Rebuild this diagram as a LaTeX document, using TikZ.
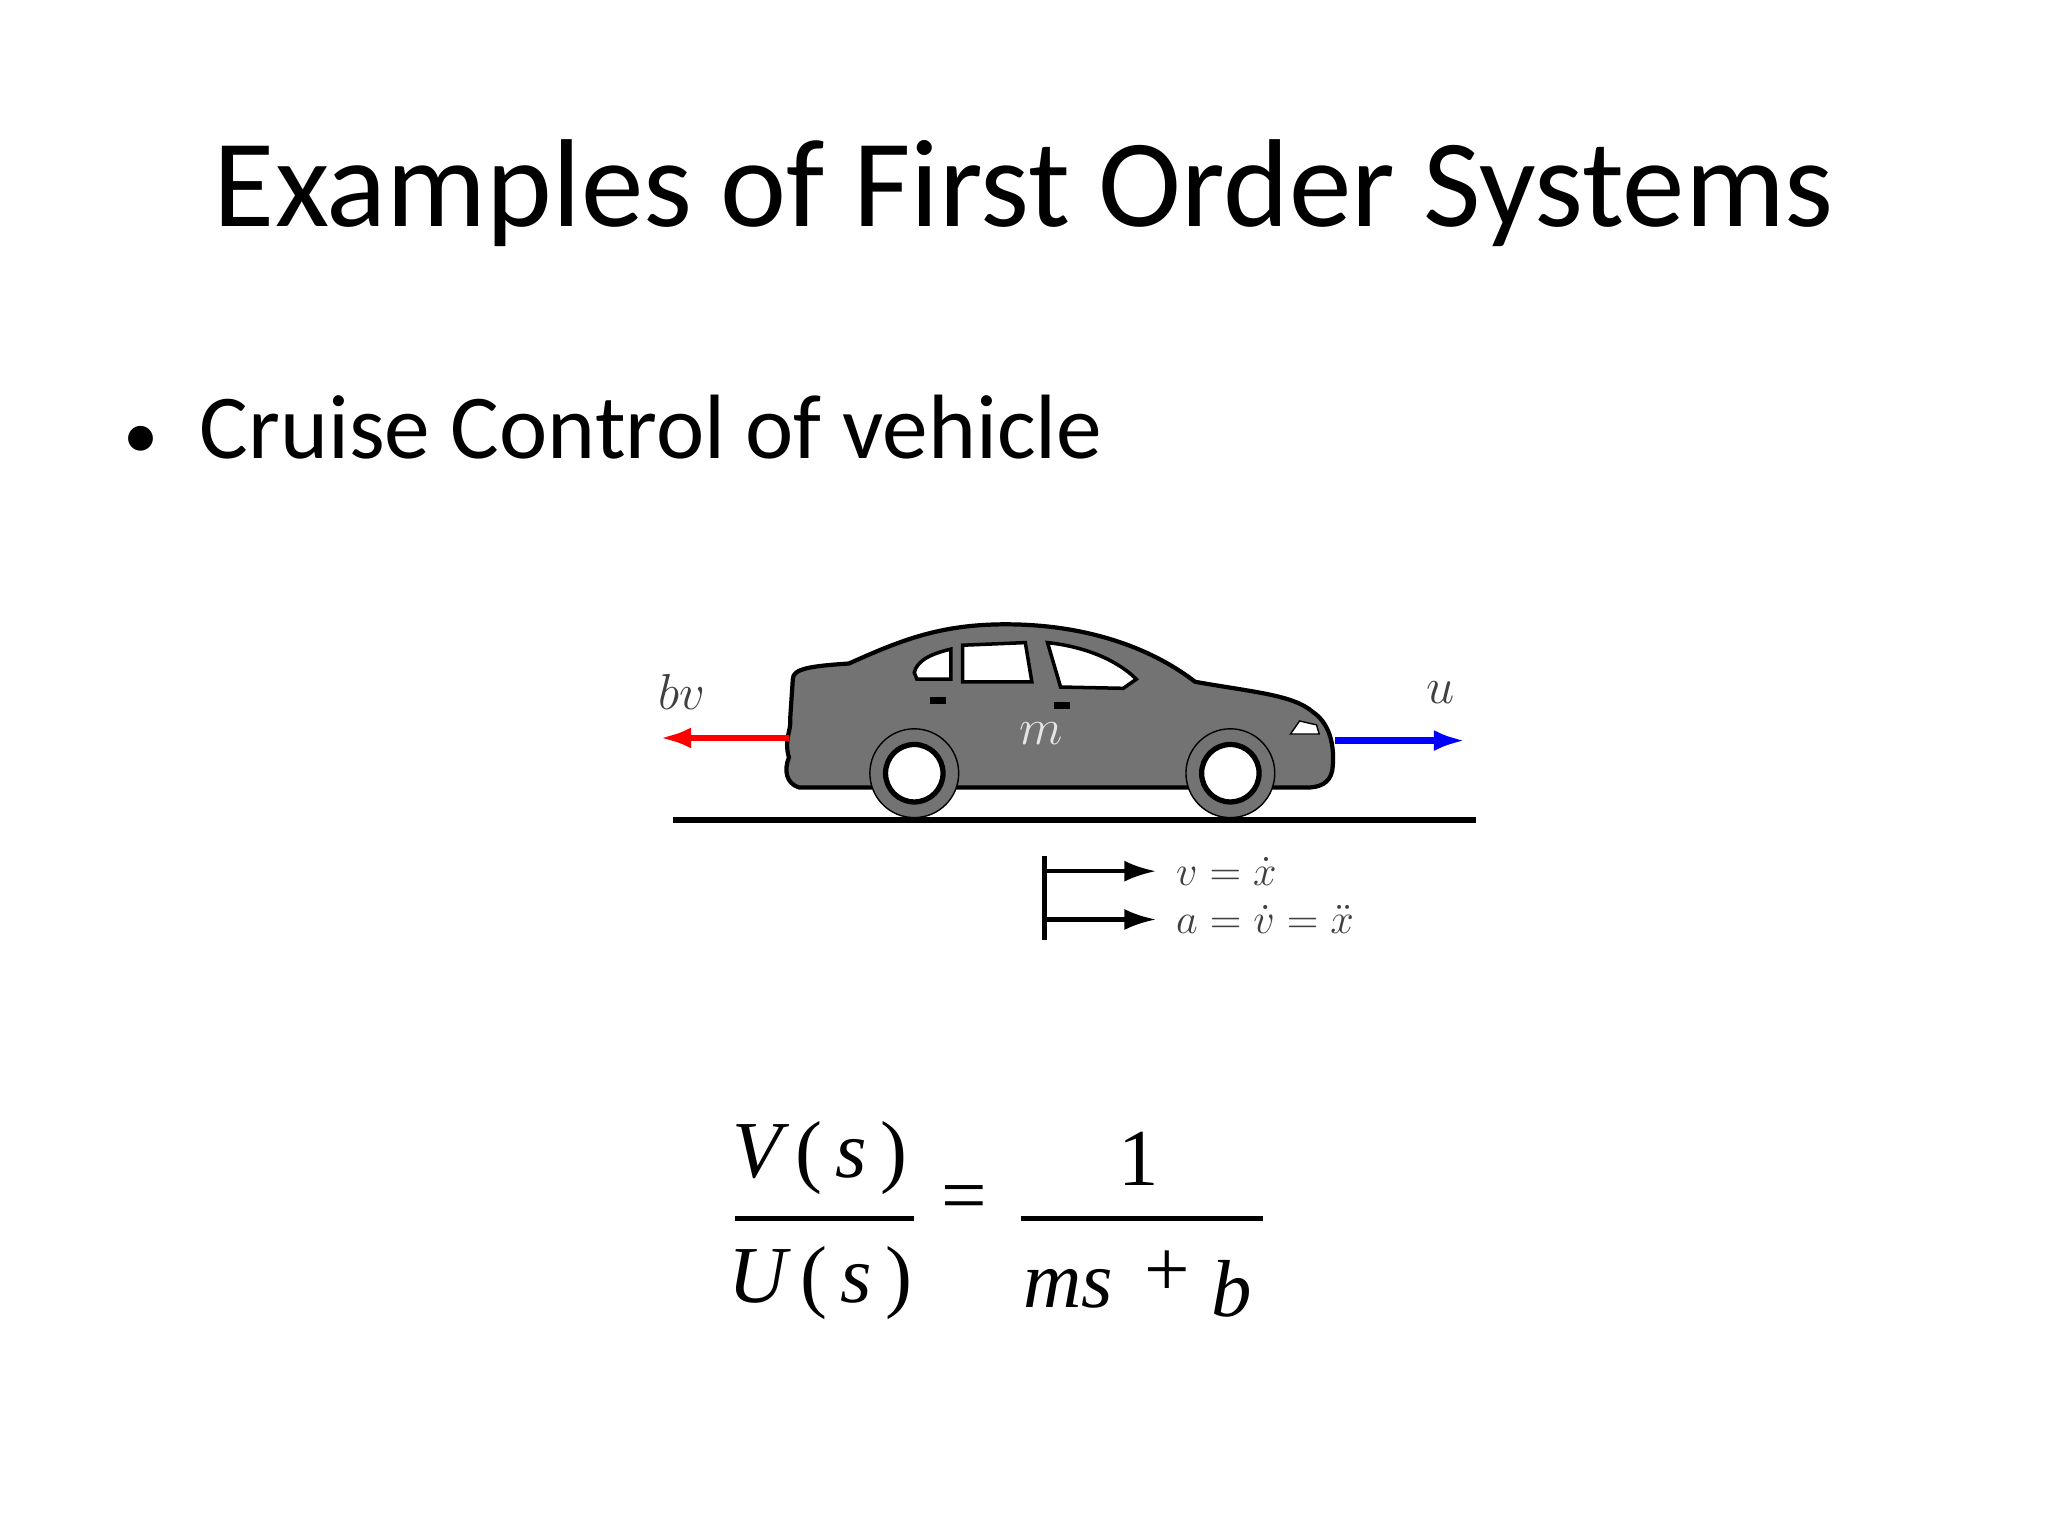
\documentclass[tikz,border=0pt]{standalone}
\usepackage{fontspec}
\setmainfont{Carlito}
\newfontfamily\tms{Liberation Serif}
\usetikzlibrary{arrows.meta}
\begin{document}
\begin{tikzpicture}[x=0.01306cm,y=-0.01306cm,
  lbl/.style={inner sep=0pt,text=black!75},
  eq/.style={inner sep=0pt,font=\tms\fontsize{23}{28}\selectfont\itshape},
  arr/.style={line width=1.8pt,-{Latex[length=9pt,width=6pt]}}]
\useasboundingbox (0,0) rectangle (1568,1176);
\fill[white] (0,0) rectangle (1568,1176);
\node[inner sep=0pt,font=\fontsize{35.6}{40}\selectfont] (title) at (784,148) {Examples of First Order Systems};
\node[inner sep=0pt,anchor=west,font=\fontsize{26}{30}\selectfont] (bul) at (94,327) {{\fontsize{20}{24}\selectfont•}\hspace{0.45em}Cruise Control of vehicle};
% car body
\fill[black!55,draw=black,line width=1.2pt] (607,520) .. controls (607,512) and (620,510) .. (650,508)
  .. controls (690,490) and (720,478) .. (770,478)
  .. controls (830,478) and (880,495) .. (915,522)
  .. controls (960,530) and (990,532) .. (1005,545)
  .. controls (1020,555) and (1022,575) .. (1020,590)
  .. controls (1018,600) and (1010,603) .. (1000,603)
  -- (612,603) .. controls (602,600) and (600,590) .. (604,580)
  .. controls (600,565) and (606,560) .. (605,550) -- cycle;
% windows
\fill[white,draw=black,line width=1pt] (700,515) .. controls (702,505) and (715,500) .. (728,497) -- (728,520) -- (702,520) -- cycle;
\fill[white,draw=black,line width=1pt] (737,494) -- (785,492) -- (790,522) -- (737,522) -- cycle;
\fill[white,draw=black,line width=1pt] (802,492) .. controls (830,495) and (855,505) .. (870,520) -- (860,527) -- (812,526) -- cycle;
\draw[line width=2pt] (712,536) -- (724,536) (807,540) -- (819,540);
\fill[white,draw=black] (988,562) -- (995,552) -- (1008,555) -- (1010,562) -- cycle;
% wheels
\foreach \n/\x in {w1/700,w2/942}{
  \fill[black!55,draw=black] (\x,592) circle (34);
  \fill[white,draw=black,line width=1.5pt] (\x,592) circle (22);
}
\draw[line width=1.6pt] (515,628) -- (1130,628);
% forces
\coordinate (r0) at (604,565); \coordinate (r1) at (505,565);
\coordinate (b0) at (1022,567); \coordinate (b1) at (1122,567);
\draw[arr,red] (r0) -- (r1);
\draw[arr,blue] (b0) -- (b1);
\node[lbl,font=\Large] (bv) at (522,530) {$bv$};
\node[lbl,font=\Large] (u) at (1103,530) {$u$};
\node[lbl,font=\Large,text=white!90!black] (m) at (797,562) {$m$};
% kinematics
\draw[line width=1.4pt] (800,655) -- (800,720);
\coordinate (k1) at (800,667); \coordinate (k2) at (800,704);
\coordinate (e1) at (885,667); \coordinate (e2) at (885,704);
\draw[arr,line width=1.2pt] (k1) -- (e1);
\draw[arr,line width=1.2pt] (k2) -- (e2);
\node[lbl,anchor=west,font=\large] (v) at (900,667) {$v=\dot x$};
\node[lbl,anchor=west,font=\large] (a) at (900,704) {$a=\dot v=\ddot x$};
% equation
\node[eq] (V) at (628,887) {V\,{\upshape(}\,s\,{\upshape)}};
\node[eq] (U) at (628,982) {U\,{\upshape(}\,s\,{\upshape)}};
\draw[line width=1.5pt] (563,933) -- (700,933);
\node[eq,font=\tms\fontsize{23}{28}\selectfont] (eqs) at (738,922) {=};
\node[eq,font=\tms\fontsize{23}{28}\selectfont] (one) at (872,887) {1};
\draw[line width=1.5pt] (782,933) -- (967,933);
\node[eq] (ms) at (818,987) {ms};
\node[eq,font=\tms\fontsize{23}{28}\selectfont] (pl) at (894,975) {+};
\node[eq] (bb) at (943,987) {b};
\end{tikzpicture}
\end{document}
